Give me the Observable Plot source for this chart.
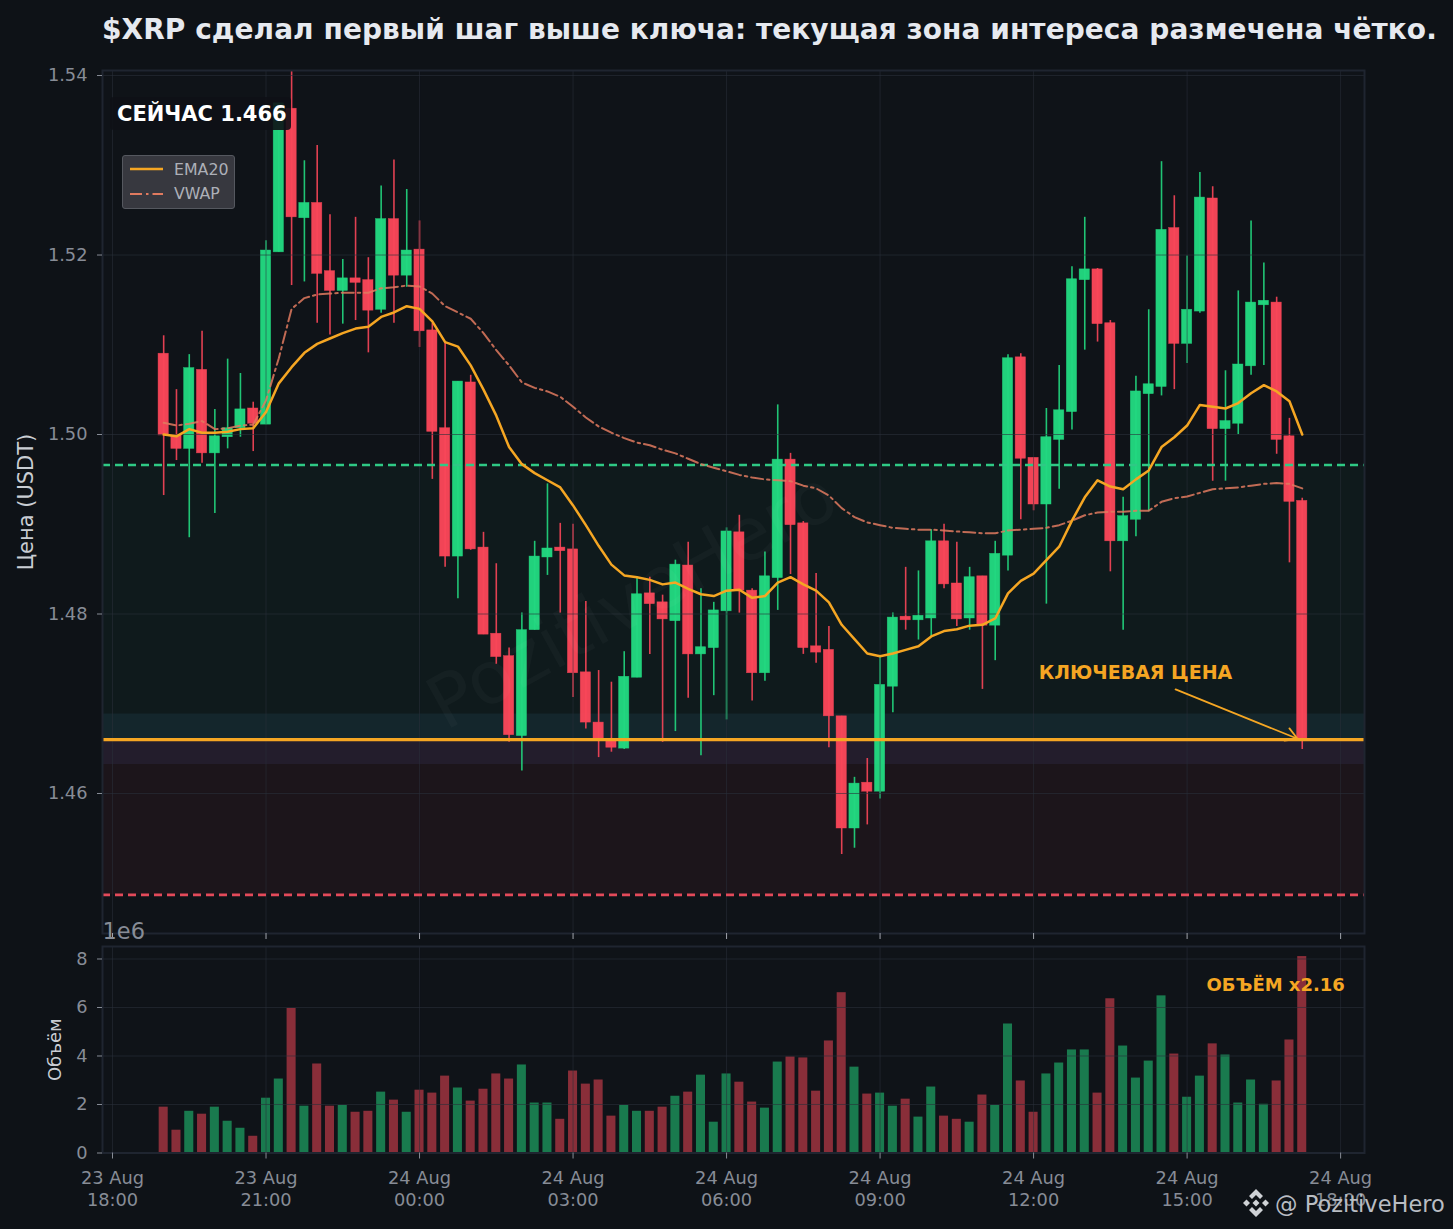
<!DOCTYPE html>
<html><head><meta charset="utf-8">
<script src="https://cdn.jsdelivr.net/npm/d3@7"></script>
<script src="https://cdn.jsdelivr.net/npm/@observablehq/plot@0.6"></script>
<style>
html,body{margin:0;padding:0;width:1453px;height:1229px;overflow:hidden;background:#0e1217;font-family:"DejaVu Sans",sans-serif}
#root{position:relative;width:1453px;height:1229px}
#root>*{position:absolute}
#root svg{overflow:visible}
#title{left:102px;top:13px;font-size:28px;font-weight:700;color:#e6e9ef;white-space:nowrap;letter-spacing:.06px;line-height:34px}
#now{left:110px;top:97px;width:181px;height:33px;box-sizing:border-box;padding:4px 0 0 7px;background:rgba(14,17,22,.9);border-radius:4px;color:#fff;font-weight:700;font-size:21px;line-height:27px;white-space:nowrap}
#legend{left:122px;top:155px;width:113px;height:54px;box-sizing:border-box;background:rgba(62,64,70,.85);border:1px solid #55585f;border-radius:3px;color:#adb0b8;font-size:15.8px}
#legend svg{position:absolute;left:7px;top:0}
#legend span{position:absolute;left:51px}
#logo{left:1243px;top:1189px;width:26px;height:28px}
#hero{left:1275px;top:1190px;font-size:22.5px;line-height:28px;color:#b9bdc3;white-space:nowrap}
</style></head><body><div id="root"></div>
<script>
const open=[1.5090,1.4999,1.4984,1.5072,1.4979,1.4997,1.5007,1.5029,1.5011,1.5203,1.5363,1.5241,1.5258,1.5182,1.5160,1.5174,1.5172,1.5139,1.5240,1.5177,1.5206,1.5116,1.5007,1.4864,1.5058,1.4874,1.4778,1.4753,1.4664,1.4782,1.4863,1.4874,1.4872,1.4735,1.4679,1.4659,1.4650,1.4729,1.4823,1.4813,1.4792,1.4854,1.4755,1.4762,1.4803,1.4891,1.4826,1.4734,1.4840,1.4972,1.4901,1.4764,1.4760,1.4686,1.4561,1.4612,1.4602,1.4719,1.4797,1.4793,1.4795,1.4881,1.4834,1.4795,1.4842,1.4787,1.4865,1.5086,1.4974,1.4922,1.4994,1.5025,1.5172,1.5184,1.5124,1.4881,1.4905,1.5045,1.5053,1.5230,1.5101,1.5137,1.5263,1.5006,1.5012,1.5076,1.5144,1.5147,1.4998,1.4926];
const high=[1.5110,1.5050,1.5089,1.5115,1.5028,1.5084,1.5068,1.5036,1.5216,1.5369,1.5405,1.5305,1.5322,1.5245,1.5195,1.5242,1.5197,1.5277,1.5306,1.5273,1.5238,1.5124,1.5103,1.5059,1.5066,1.4891,1.4856,1.4762,1.4801,1.4881,1.4945,1.4901,1.4900,1.4814,1.4737,1.4724,1.4758,1.4840,1.4841,1.4821,1.4860,1.4880,1.4828,1.4813,1.4896,1.4910,1.4828,1.4869,1.5033,1.4979,1.4903,1.4845,1.4786,1.4686,1.4618,1.4639,1.4752,1.4801,1.4852,1.4848,1.4894,1.4900,1.4880,1.4852,1.4842,1.4881,1.5089,1.5090,1.4974,1.5029,1.5077,1.5187,1.5242,1.5185,1.5127,1.4930,1.5065,1.5139,1.5304,1.5266,1.5199,1.5292,1.5276,1.5071,1.5160,1.5238,1.5191,1.5153,1.5018,1.4929];
const low=[1.4932,1.4971,1.4885,1.4968,1.4912,1.4984,1.4997,1.4981,1.5011,1.5203,1.5166,1.5170,1.5124,1.5111,1.5123,1.5127,1.5091,1.5135,1.5124,1.5164,1.5097,1.4950,1.4852,1.4817,1.4871,1.4777,1.4744,1.4657,1.4625,1.4782,1.4843,1.4801,1.4707,1.4672,1.4640,1.4646,1.4649,1.4729,1.4755,1.4657,1.4669,1.4706,1.4642,1.4709,1.4682,1.4801,1.4703,1.4725,1.4804,1.4844,1.4755,1.4745,1.4651,1.4532,1.4539,1.4565,1.4594,1.4690,1.4782,1.4771,1.4774,1.4828,1.4786,1.4782,1.4716,1.4748,1.4848,1.4905,1.4915,1.4811,1.4939,1.5005,1.5094,1.5103,1.4847,1.4782,1.4886,1.4914,1.5043,1.5050,1.5079,1.5135,1.4948,1.4948,1.5000,1.5066,1.5077,1.4978,1.4857,1.4649];
const close=[1.4999,1.4984,1.5074,1.4979,1.4998,1.5007,1.5028,1.5012,1.5205,1.5369,1.5242,1.5258,1.5179,1.5160,1.5174,1.5169,1.5138,1.5240,1.5177,1.5205,1.5115,1.5003,1.4864,1.5059,1.4872,1.4777,1.4752,1.4665,1.4782,1.4864,1.4873,1.4870,1.4734,1.4679,1.4660,1.4651,1.4730,1.4822,1.4811,1.4794,1.4855,1.4755,1.4763,1.4804,1.4892,1.4826,1.4734,1.4842,1.4972,1.4899,1.4762,1.4757,1.4686,1.4561,1.4611,1.4602,1.4721,1.4796,1.4793,1.4798,1.4881,1.4833,1.4794,1.4841,1.4787,1.4867,1.5085,1.4973,1.4922,1.4997,1.5027,1.5173,1.5184,1.5123,1.4881,1.4909,1.5048,1.5056,1.5228,1.5101,1.5139,1.5264,1.5006,1.5015,1.5078,1.5147,1.5149,1.4994,1.4925,1.4661];
const ema=[1.5000,1.4998,1.5006,1.5002,1.5002,1.5003,1.5006,1.5007,1.5025,1.5057,1.5075,1.5091,1.5101,1.5107,1.5113,1.5118,1.5120,1.5131,1.5136,1.5143,1.5140,1.5126,1.5103,1.5098,1.5077,1.5050,1.5021,1.4986,1.4967,1.4957,1.4949,1.4941,1.4921,1.4899,1.4876,1.4855,1.4843,1.4841,1.4838,1.4833,1.4835,1.4828,1.4822,1.4820,1.4826,1.4827,1.4818,1.4820,1.4835,1.4841,1.4833,1.4826,1.4813,1.4788,1.4772,1.4756,1.4753,1.4756,1.4760,1.4764,1.4775,1.4781,1.4783,1.4787,1.4788,1.4795,1.4823,1.4837,1.4845,1.4860,1.4875,1.4904,1.4930,1.4949,1.4942,1.4939,1.4950,1.4960,1.4986,1.4997,1.5010,1.5033,1.5031,1.5029,1.5035,1.5046,1.5055,1.5048,1.5037,1.5000];
const vwap=[1.5013,1.5010,1.5012,1.5015,1.5006,1.5007,1.5010,1.5011,1.5038,1.5085,1.5140,1.5152,1.5156,1.5157,1.5158,1.5158,1.5158,1.5163,1.5164,1.5166,1.5165,1.5157,1.5143,1.5136,1.5129,1.5113,1.5094,1.5077,1.5058,1.5052,1.5048,1.5042,1.5031,1.5019,1.5009,1.5002,1.4996,1.4991,1.4988,1.4983,1.4979,1.4973,1.4967,1.4963,1.4959,1.4955,1.4952,1.4950,1.4949,1.4948,1.4943,1.4940,1.4932,1.4918,1.4908,1.4902,1.4899,1.4896,1.4895,1.4894,1.4894,1.4893,1.4892,1.4891,1.4890,1.4890,1.4893,1.4894,1.4895,1.4896,1.4899,1.4904,1.4910,1.4913,1.4914,1.4914,1.4915,1.4915,1.4925,1.4929,1.4931,1.4935,1.4939,1.4940,1.4941,1.4943,1.4945,1.4946,1.4945,1.4940];
const volume=[1.89,0.94,1.72,1.60,1.89,1.31,1.02,0.69,2.26,3.05,5.96,1.93,3.67,1.93,1.96,1.68,1.72,2.51,2.18,1.68,2.59,2.47,3.17,2.68,2.14,2.63,3.26,3.05,3.63,2.06,2.06,1.39,3.38,2.84,3.01,1.52,1.96,1.72,1.72,1.89,2.34,2.51,3.21,1.27,3.26,2.92,2.10,1.85,3.75,3.96,3.92,2.55,4.62,6.61,3.54,2.43,2.47,1.93,2.22,1.48,2.72,1.52,1.39,1.27,2.39,1.96,5.32,2.97,1.68,3.26,3.71,4.25,4.25,2.47,6.36,4.41,3.09,3.79,6.48,4.08,2.30,3.17,4.50,4.04,2.06,3.01,2.01,2.97,4.66,8.10];
const firstCandle="2025-08-23T19:00:00Z";
const tickTimes=["2025-08-23T18:00:00Z","2025-08-23T21:00:00Z","2025-08-24T00:00:00Z","2025-08-24T03:00:00Z","2025-08-24T06:00:00Z","2025-08-24T09:00:00Z","2025-08-24T12:00:00Z","2025-08-24T15:00:00Z","2025-08-24T18:00:00Z"];
const tickLabels=["23 Aug\n18:00","23 Aug\n21:00","24 Aug\n00:00","24 Aug\n03:00","24 Aug\n06:00","24 Aug\n09:00","24 Aug\n12:00","24 Aug\n15:00","24 Aug\n18:00"];
const priceTicks=[1.46,1.48,1.50,1.52,1.54];
const volumeTicks=[0,2,4,6,8];
const zoneTop=1.4966, zoneBottom=1.4487, keyPrice=1.466, bandTop=1.46886, bandBottom=1.46323;
const titleText="$XRP сделал первый шаг выше ключа: текущая зона интереса размечена чётко.";

const MIN=60000, GREEN="#22d880", RED="#f94659", ORANGE="#f5a623", GRID="#2a303a", VWAPDASH="12,4,2.5,4";
const D=s=>new Date(s);
const xDomain=[D("2025-08-23T17:48:16Z"),D("2025-08-24T18:28:00Z")];
const ticks=tickTimes.map(D);
const rows=open.map((o,i)=>{const t=+D(firstCandle)+i*15*MIN;return{t:new Date(t),a:new Date(t-6*MIN),b:new Date(t+6*MIN),va:new Date(t-5.3*MIN),vb:new Date(t+5.3*MIN),o,h:high[i],l:low[i],c:close[i],ema:ema[i],vwap:vwap[i],v:volume[i],col:close[i]>=o?GREEN:RED}});
const bands=[{y1:zoneTop,y2:keyPrice,f:"#22d880",o:.04},{y1:keyPrice,y2:zoneBottom,f:"#f94659",o:.055},{y1:bandTop,y2:keyPrice,f:"#4aa8d8",o:.09},{y1:keyPrice,y2:bandBottom,f:"#6e6ce0",o:.09}];
const baseStyle={background:"transparent",color:"#878c96",fontFamily:"'DejaVu Sans',sans-serif",fontSize:"17.8px",overflow:"visible"};

const pricePlot=Plot.plot({width:1453,height:945,marginLeft:102,marginRight:89,marginTop:70,marginBottom:12,style:baseStyle,
 x:{type:"utc",domain:xDomain},y:{domain:[1.44440,1.54056]},
 marks:[
  Plot.frame({fill:"#0f1318",stroke:null}),
  Plot.rect(bands,{x1:()=>xDomain[0],x2:()=>xDomain[1],y1:"y1",y2:"y2",fill:"f",fillOpacity:"o"}),
  Plot.ruleX(rows,{x:"t",y1:"l",y2:"h",stroke:"col",strokeWidth:1.6,strokeOpacity:.9,clip:true}),
  Plot.rect(rows,{x1:"a",x2:"b",y1:"o",y2:"c",fill:"col",fillOpacity:.97,stroke:"col",strokeWidth:.6,strokeOpacity:.7}),
  Plot.gridX(ticks,{stroke:GRID,strokeOpacity:.55,strokeWidth:1}),
  Plot.gridY(priceTicks,{stroke:GRID,strokeOpacity:.6,strokeWidth:1}),
  Plot.text(["PozitiveHero"],{x:()=>D("2025-08-24T04:10:00Z"),y:()=>1.4815,rotate:-29,fontSize:73,fill:"#ffffff",fillOpacity:.028}),
  Plot.ruleY([zoneTop],{stroke:"#2fc985",strokeWidth:2.6,strokeDasharray:"8,5"}),
  Plot.ruleY([zoneBottom],{stroke:"#e34a5a",strokeWidth:2.6,strokeDasharray:"8,5"}),
  Plot.line(rows,{x:"t",y:"vwap",stroke:"#e07a5f",strokeWidth:2,strokeOpacity:.85,strokeDasharray:VWAPDASH,curve:"linear"}),
  Plot.line(rows,{x:"t",y:"ema",stroke:ORANGE,strokeWidth:2.5,curve:"linear"}),
  Plot.ruleY([keyPrice],{stroke:ORANGE,strokeWidth:3.2}),
  Plot.text(["КЛЮЧЕВАЯ ЦЕНА"],{x:()=>D("2025-08-24T12:06:00Z"),y:()=>1.4734,text:d=>d,textAnchor:"start",fontSize:19,fontWeight:700,fill:ORANGE}),
  Plot.arrow([0],{x1:()=>D("2025-08-24T14:46:30Z"),y1:()=>1.4716,x2:()=>D("2025-08-24T17:09:30Z"),y2:()=>1.4661,stroke:ORANGE,strokeWidth:1.8,headLength:11,bend:0}),
  Plot.frame({stroke:"#1f2530",strokeWidth:2}),
  Plot.axisY(priceTicks,{tickFormat:d3.format(".2f"),label:null,tickSize:5,tickPadding:10}),
  Plot.axisX(ticks,{tickFormat:()=>"",label:null,tickSize:6,anchor:"bottom",color:"#a0a4ac"}),
  Plot.text(["Цена (USDT)"],{frameAnchor:"left",textAnchor:"middle",dx:-76,rotate:-90,fontSize:21,fill:"#c9cdd3"})
 ]});

const volPlot=Plot.plot({width:1453,height:314,marginLeft:102,marginRight:89,marginTop:31,marginBottom:76.5,style:baseStyle,
 x:{type:"utc",domain:xDomain},y:{domain:[0,8.515]},
 marks:[
  Plot.frame({fill:"#0f1318",stroke:null}),
  Plot.rect(rows,{x1:"va",x2:"vb",y1:()=>0,y2:"v",fill:"col",fillOpacity:.52}),
  Plot.gridX(ticks,{stroke:GRID,strokeOpacity:.55}),
  Plot.gridY(volumeTicks,{stroke:GRID,strokeOpacity:.6}),
  Plot.text(["ОБЪЁМ x2.16"],{x:()=>D("2025-08-24T18:05:00Z"),y:()=>6.91,text:d=>d,textAnchor:"end",fontSize:18,fontWeight:700,fill:ORANGE}),
  Plot.frame({stroke:"#1f2530",strokeWidth:2}),
  Plot.axisY(volumeTicks,{tickFormat:d=>String(d),label:null,tickSize:5,tickPadding:10}),
  Plot.axisX(ticks,{tickFormat:(d,i)=>tickLabels[i],label:null,tickSize:6,tickPadding:9,lineHeight:1.25,anchor:"bottom"}),
  Plot.text(["Объём"],{frameAnchor:"left",textAnchor:"middle",dx:-47,rotate:-90,fontSize:18,fill:"#c9cdd3"}),
  Plot.text(["1e6"],{frameAnchor:"top-left",dy:-23,textAnchor:"start",fontSize:22.5,fill:"#878c96"})
 ]});

const root=document.getElementById("root");
pricePlot.style.left="0";pricePlot.style.top="0";pricePlot.style.position="absolute";
volPlot.style.left="0";volPlot.style.top="915px";volPlot.style.position="absolute";
root.append(pricePlot,volPlot);
root.insertAdjacentHTML("beforeend",`
<div id="title"></div>
<div id="now">СЕЙЧАС 1.466</div>
<div id="legend">
 <svg width="40" height="54"><line x1="0" x2="33" y1="13" y2="13" stroke="${ORANGE}" stroke-width="2.5"/><line x1="0" x2="33" y1="38" y2="38" stroke="#e07a5f" stroke-width="2" stroke-dasharray="${VWAPDASH}"/></svg>
 <span style="top:4px">EMA20</span><span style="top:28px">VWAP</span>
</div>
<svg id="logo" viewBox="0 0 26 28"><g fill="#cfd2d6">
 <path d="M13 0 L20 7 L17 10 L13 6 L9 10 L6 7Z"/><path d="M13 28 L6 21 L9 18 L13 22 L17 18 L20 21Z"/>
 <path d="M13 10.5 L16.5 14 L13 17.5 L9.5 14Z"/><path d="M3.5 10.5 L7 14 L3.5 17.5 L0 14Z"/><path d="M22.5 10.5 L26 14 L22.5 17.5 L19 14Z"/></g></svg>
<div id="hero">@ PozitiveHero</div>`);
document.getElementById("title").textContent=titleText;
</script></body></html>
